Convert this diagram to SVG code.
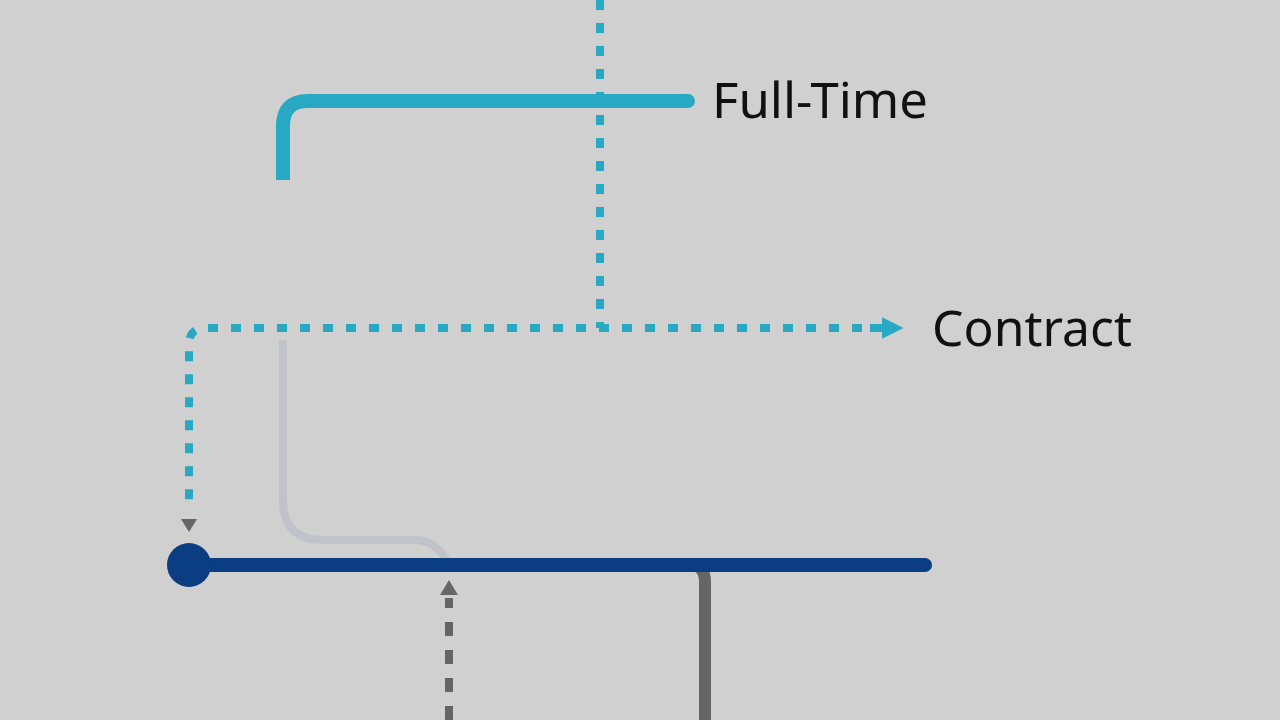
<svg xmlns="http://www.w3.org/2000/svg" width="1280" height="720" viewBox="0 0 1280 720">
<defs>
<style>
.lbl{font-family:"Noto Sans","Open Sans",sans-serif;fill:#111;}
.teal{stroke:#27a9c3;fill:none;}
.dot{stroke:#27a9c3;fill:none;stroke-width:8;stroke-dasharray:10 13;}
</style>
<marker id="tealArrow" viewBox="0 0 10 10" refX="2" refY="5" markerWidth="22" markerHeight="22" markerUnits="userSpaceOnUse" orient="auto">
<path d="M0,0 L10,5 L0,10 Z" fill="#27a9c3"/>
</marker>
</defs>
<rect width="1280" height="720" fill="#d0d0d0"/>
<g id="connectors">
<path class="teal" d="M283,180 L283,126 Q283,101 308,101 L688,101" stroke-width="14"/>
<circle cx="688" cy="101" r="7" fill="#27a9c3"/>
<path class="dot" d="M600,0 L600,328"/>
<path class="dot" d="M885,328 L205,328 Q190,328 189,343 L189,512"/>
<path d="M870,328 L886,328" stroke="#27a9c3" stroke-width="8" marker-end="url(#tealArrow)"/>
<path d="M181,519 L197,519 L189,532 Z" fill="#666"/>
<path d="M283,340 L283,500 Q283,540 323,540 L415,540 Q435,540 448,562" stroke="#c2c2ca" stroke-width="8" fill="none"/>
<path d="M690,565 Q705,565 705,582 L705,720" stroke="#666" stroke-width="12" fill="none"/>
<path d="M189,565 L925,565" stroke="#0a3d82" stroke-width="14" stroke-linecap="round"/>
<path d="M449,720 L449,598" stroke="#666" stroke-width="8" stroke-dasharray="14 14" fill="none"/>
<path d="M440,595 L458,595 L449,580 Z" fill="#666"/>
</g>
<g id="start-node"><circle cx="189" cy="565" r="22" fill="#0a3d82"/></g>
<g id="full-time"><text class="lbl" x="712" y="118" font-size="50" textLength="216" lengthAdjust="spacingAndGlyphs">Full-Time</text></g>
<g id="contract"><text class="lbl" x="932" y="346" font-size="50" textLength="200" lengthAdjust="spacingAndGlyphs">Contract</text></g>
</svg>
